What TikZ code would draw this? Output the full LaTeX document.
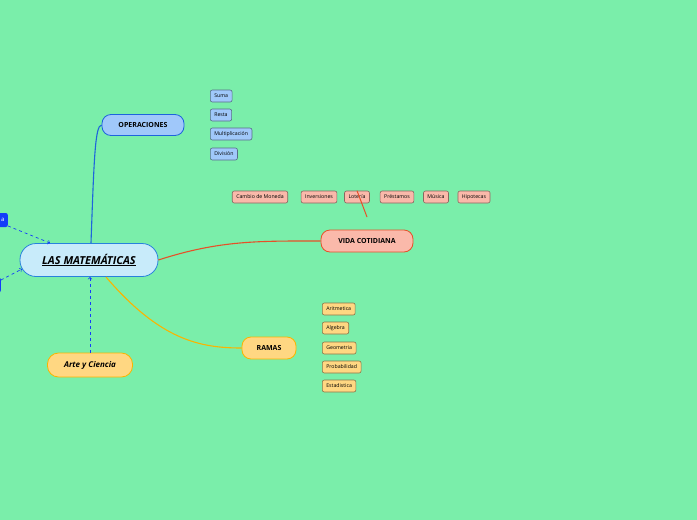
\documentclass[tikz,border=0pt]{standalone}
\usepackage{fontspec}
\setmainfont{Open Sans}
\usetikzlibrary{backgrounds}
\definecolor{bg}{RGB}{122,238,170}
\definecolor{bl}{RGB}{160,200,250}
\definecolor{pk}{RGB}{250,185,170}
\definecolor{ye}{RGB}{255,215,130}
\definecolor{cb}{RGB}{40,130,220}
\definecolor{cf}{RGB}{200,235,250}
\definecolor{ob}{RGB}{30,100,220}
\definecolor{vr}{RGB}{230,80,40}
\definecolor{yo}{RGB}{250,180,0}
\definecolor{db}{RGB}{20,60,250}
\definecolor{lb}{RGB}{40,140,220}
\definecolor{lp}{RGB}{200,140,90}
\definecolor{ly}{RGB}{200,200,80}
\begin{document}
\begin{tikzpicture}[x=1pt,y=-1pt,
 leaf/.style={draw=#1!55!black,line width=0.6pt,rounded corners=2pt,inner xsep=4pt,inner ysep=2pt,font=\fontsize{5.2}{6}\selectfont,minimum height=12pt},
 mainb/.style={rounded corners=9pt,line width=0.8pt,minimum height=22pt,font=\fontsize{7}{8}\selectfont\bfseries}]
\fill[bg] (0,0) rectangle (697,520);
\useasboundingbox (0,0) rectangle (697,520);
\clip (0,0) rectangle (697,520);
\node[draw=cb,fill=cf,rounded corners=16pt,minimum width=138pt,minimum height=33pt,line width=0.8pt,font=\fontsize{11}{12}\selectfont\bfseries\itshape] (c) at (89,260) {\underline{LAS MATEMÁTICAS}};
\node[mainb,draw=ob,fill=bl,minimum width=82pt,minimum height=21pt] (op) at (143,125) {OPERACIONES};
\node[mainb,draw=vr,fill=pk,minimum width=92pt] (vc) at (367,241) {VIDA COTIDIANA};
\node[mainb,draw=yo,fill=ye,minimum width=54pt] (ra) at (269,348) {RAMAS};
\node[rounded corners=11pt,draw=yo,fill=ye,minimum width=85pt,minimum height=24pt,line width=0.8pt,font=\fontsize{8}{9}\selectfont\bfseries\itshape] (ac) at (90,365) {Arte y Ciencia};
\node[fill=db,rounded corners=2pt,minimum width=20pt,minimum height=14pt,text=white,font=\fontsize{6}{7}\selectfont,anchor=east] (l1) at (8,220) {\hspace{10pt}a};
\node[fill=db,rounded corners=2pt,minimum width=20pt,minimum height=15pt,anchor=east] (l2) at (1,285) {};
\draw[ob,line width=1.1pt] (91,243) .. controls (94,160) and (95,125) .. (op.west);
\draw[vr,line width=1.1pt] (c.east) .. controls (220,240) and (260,241) .. (vc.west);
\draw[yo,line width=1.1pt] (106,277) .. controls (160,340) and (200,348) .. (ra.west);
\draw[db,dashed,line width=0.7pt,->] (ac.north) -- (90,277);
\draw[db,dashed,line width=0.7pt,->] (8,226) -- (50,243);
\draw[db,dashed,line width=0.7pt,->] (1,280) -- (22,269);
\foreach \n/\t/\y in {s/Suma/96,r/Resta/115,m/Multiplicación/134,d/División/154}{
 \node[leaf=bl,fill=bl,anchor=west] (o\n) at (210,\y) {\t};
 \begin{scope}[on background layer]
 \draw[lb,line width=0.5pt] (op.east) -- (199,125) .. controls (205,125) and (203,\y) .. (o\n.west);
 \end{scope}
}
\foreach \n/\t/\x in {a/Cambio de Moneda/260,b/Inversiones/319,c/Lotería/357,d/Préstamos/397,e/Música/436,f/Hipotecas/474}{
 \node[leaf=pk,fill=pk] (v\n) at (\x,197) {\t};
 \begin{scope}[on background layer]
 \draw[lp,line width=0.5pt] (v\n.south) .. controls (\x,212) and (367,206) .. (367,217);
 \end{scope}
}
\draw[vr,line width=1pt] (367,217) -- (vc.north);
\foreach \n/\t/\y in {a/Aritmetica/309,b/Algebra/328,c/Geometria/348,d/Probabilidad/367,e/Estadistica/386}{
 \node[leaf=ye,fill=ye,anchor=west] (r\n) at (322,\y) {\t};
 \begin{scope}[on background layer]
 \draw[ly,line width=0.5pt] (ra.east) -- (310,348) .. controls (317,348) and (314,\y) .. (r\n.west);
 \end{scope}
}
\end{tikzpicture}
\end{document}
